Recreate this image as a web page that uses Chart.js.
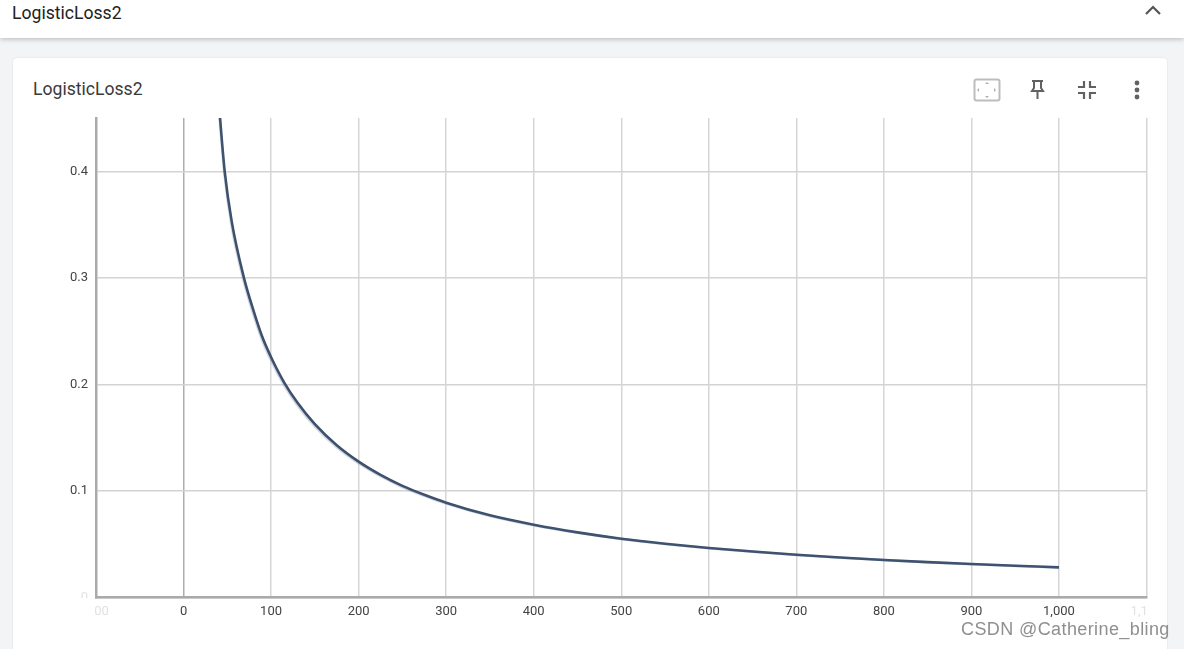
<!DOCTYPE html>
<html>
<head>
<meta charset="utf-8">
<title>LogisticLoss2</title>
<script src="https://cdn.jsdelivr.net/npm/chart.js@4/dist/chart.umd.min.js"></script>
<style>
  html, body { margin: 0; width: 1184px; height: 649px; overflow: hidden; background: #f3f4f6; font-family: Roboto, sans-serif; }
  #header { position: absolute; left: 0; top: 0; width: 1184px; height: 38px; background: #fff; box-shadow: 0 1px 5px rgba(0,0,0,.25); }
  #header span { position: absolute; left: 12px; top: 3px; font-size: 17.6px; line-height: 20px; color: #212121; }
  #card { position: absolute; left: 13px; top: 58px; width: 1154px; height: 600px; background: #fff; border-radius: 4px; box-shadow: 0 0 2px rgba(0,0,0,.12); }
  #title { position: absolute; left: 33px; top: 79px; font-size: 17.6px; line-height: 20px; color: #3a3a3a; }
  canvas { position: absolute; left: 0; top: 0; }
  .mask { position: absolute; background: #fff; }
  svg { position: absolute; overflow: visible; }
  #mark { position: absolute; left: 961px; top: 618px; font-family: "Liberation Sans", sans-serif; font-size: 18px; line-height: 22px; color: #8f8f8f; white-space: nowrap; letter-spacing: .4px; }
</style>
</head>
<body>
<div id="header"><span>LogisticLoss2</span></div>
<div id="card"></div>
<div id="title">LogisticLoss2</div>
<canvas id="myChart" width="1184" height="649"></canvas>
<div class="mask" style="left:60px;top:598px;width:34px;height:22px"></div>
<div class="mask" style="left:1148px;top:599px;width:19px;height:22px"></div>

<svg style="left:0;top:0" width="1184" height="649" fill="none">
  <path d="M1146 14 L1153 7 L1160 14" stroke="#555" stroke-width="2.2"/>
  <rect x="974.5" y="79.5" width="25" height="21" rx="2" stroke="#bdbdbd" stroke-width="2"/>
  <path d="M985 84 h4 l-2 -2z M985 96 h4 l-2 2z M979 88 v4 l-2 -2z M994 88 v4 l2 -2z" fill="#b0b0b0"/>
  <path d="M1032 81 h11 M1034 81 v7 l-2 3 h11 l-2 -3 v-7 M1037.500 91 v8" stroke="#616161" stroke-width="2"/>
  <path d="M1084 81 v6 h-6 M1090 81 v6 h6 M1084 99 v-6 h-6 M1090 99 v-6 h6" stroke="#616161" stroke-width="2.200"/>
  <circle cx="1137" cy="83" r="2.400" fill="#616161"/>
  <circle cx="1137" cy="90" r="2.400" fill="#616161"/>
  <circle cx="1137" cy="97" r="2.400" fill="#616161"/>
</svg>
<div id="mark">CSDN @Catherine_bling</div>

<script>
const steps = [
  38, 42, 47, 55, 69, 80, 90, 100, 115, 130, 150, 175, 200, 225, 250, 275, 300,
  350, 400, 450, 500, 550, 600, 650, 700, 750, 800, 850, 900, 950, 1000,
];

const smoothed = [
  0.49, 0.447, 0.4, 0.353, 0.3, 0.269, 0.2444, 0.2255, 0.2017, 0.183, 0.1627,
  0.1429, 0.1275, 0.1151, 0.1048, 0.0964, 0.089, 0.0771, 0.0683, 0.0611, 0.0552,
  0.0505, 0.0465, 0.0431, 0.0401, 0.0375, 0.03525, 0.0332, 0.0314, 0.0298, 0.0283,
];

const raw = [
  0.484, 0.441, 0.395, 0.348, 0.296, 0.265, 0.241, 0.2225, 0.199, 0.1805, 0.1605,
  0.141, 0.126, 0.1138, 0.1037, 0.0955, 0.0882, 0.0765, 0.0678, 0.0607, 0.0549,
  0.0502, 0.0463, 0.0429, 0.0399, 0.0373, 0.0351, 0.033, 0.0312, 0.0296, 0.0281,
];

const yTicks = [0, 0.1, 0.2, 0.3, 0.4];

const myChart = new Chart("myChart", {
  type: "line",
  data: {
    datasets: [
      {
        label: "raw",
        data: steps.map((s, i) => ({ x: s, y: raw[i] })),
        borderColor: "rgba(70,95,140,0.25)",
        borderWidth: 2.5,
        pointRadius: 0,
        cubicInterpolationMode: "monotone",
      },
      {
        label: "smoothed",
        data: steps.map((s, i) => ({ x: s, y: smoothed[i] })),
        borderColor: "#3d4f69",
        borderWidth: 2.6,
        pointRadius: 0,
        cubicInterpolationMode: "monotone",
      },
    ],
  },
  options: {
    responsive: false,
    animation: false,
    layout: {
      padding: { left: 56, right: 37.5, top: 118, bottom: 31.5 },
    },
    scales: {
      x: {
        type: "linear",
        min: -100,
        max: 1100,
        afterFit: (scale) => { scale.height = 20; },
        border: { color: "#aaaaaa", width: 2.5 },
        grid: {
          drawTicks: false,
          lineWidth: 1.5,
          color: (ctx) => (ctx.tick && ctx.tick.value === 0 ? "#adadad" : "#d6d6d6"),
        },
        ticks: {
          stepSize: 100,
          maxRotation: 0,
          autoSkip: false,
          padding: 6,
          font: { family: "Roboto", size: 13 },
          color: (ctx) => (ctx.tick.value < 0 || ctx.tick.value > 1000 ? "#e2e2e2" : "#444444"),
          callback: (value) => value.toLocaleString("en-US"),
        },
      },
      y: {
        min: 0,
        max: 0.45,
        afterFit: (scale) => { scale.width = 40; },
        afterBuildTicks: (scale) => { scale.ticks = yTicks.map((v) => ({ value: v })); },
        border: { color: "#aaaaaa", width: 2.5 },
        grid: {
          drawTicks: false,
          lineWidth: 1.5,
          color: "#d3d3d3",
        },
        ticks: {
          padding: 8,
          font: { family: "Roboto", size: 13 },
          color: (ctx) => (ctx.tick.value === 0 ? "#e2e2e2" : "#444444"),
          callback: (value) => String(value),
        },
      },
    },
    plugins: {
      legend: { display: false },
      tooltip: { enabled: false },
    },
  },
});
</script>
</body>
</html>
